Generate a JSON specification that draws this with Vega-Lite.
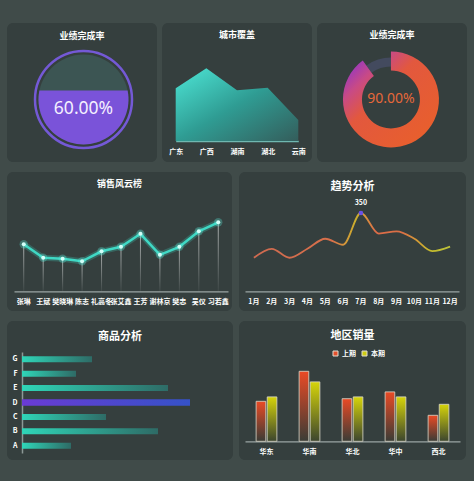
{
  "$schema": "https://vega.github.io/schema/vega-lite/v6.json",
  "background": "#404b49",
  "padding": {"left": 7, "top": 23, "right": 7, "bottom": 21},
  "config": {
    "font": "Noto Sans CJK SC",
    "view": {"stroke": null},
    "axis": {"grid": false, "ticks": false, "title": null, "labelColor": "#ffffff", "labelFontSize": 7, "labelFontWeight": "bold", "labelFont": "Noto Sans CJK SC", "labelOverlap": false, "domainColor": "#8c9896", "domainWidth": 1.2, "labelAngle": 0},
    "title": {"color": "#ffffff", "font": "Noto Sans CJK SC", "anchor": "middle", "frame": "group", "fontWeight": "bold"}
  },
  "datasets": {
    "gauge": [{"name": "业绩完成率", "value": 0.6, "label": "60.00%"}],
    "city": [
      {"city": "广东", "value": 265}, {"city": "广西", "value": 365}, {"city": "湖南", "value": 255},
      {"city": "湖北", "value": 267}, {"city": "云南", "value": 105}
    ],
    "donut": [
      {"part": "完成", "start": 0, "end": 90, "label": "90.00%"},
      {"part": "未完成", "start": 90, "end": 100, "label": "10.00%"}
    ],
    "sales": [
      {"name": "张琳", "value": 470}, {"name": "王斌", "value": 335}, {"name": "樊晓琳", "value": 325},
      {"name": "陈志", "value": 300}, {"name": "礼高冬", "value": 400}, {"name": "张艾鑫", "value": 445},
      {"name": "王芳", "value": 575}, {"name": "谢林京", "value": 365}, {"name": "樊忠", "value": 445},
      {"name": "吴仪", "value": 600}, {"name": "习若鑫", "value": 690}
    ],
    "trend": [
      {"month": "1月", "value": 150}, {"month": "2月", "value": 190}, {"month": "3月", "value": 150},
      {"month": "4月", "value": 190}, {"month": "5月", "value": 235}, {"month": "6月", "value": 208},
      {"month": "7月", "value": 350}, {"month": "8月", "value": 258}, {"month": "9月", "value": 268},
      {"month": "10月", "value": 235}, {"month": "11月", "value": 180}, {"month": "12月", "value": 200}
    ],
    "goods": [
      {"cat": "G", "value": 70}, {"cat": "F", "value": 54}, {"cat": "E", "value": 146},
      {"cat": "D", "value": 168}, {"cat": "C", "value": 84}, {"cat": "B", "value": 136}, {"cat": "A", "value": 49}
    ],
    "region": [
      {"region": "华东", "period": "上期", "value": 200}, {"region": "华东", "period": "本期", "value": 222},
      {"region": "华南", "period": "上期", "value": 350}, {"region": "华南", "period": "本期", "value": 297},
      {"region": "华北", "period": "上期", "value": 213}, {"region": "华北", "period": "本期", "value": 222},
      {"region": "华中", "period": "上期", "value": 247}, {"region": "华中", "period": "本期", "value": 222},
      {"region": "西北", "period": "上期", "value": 130}, {"region": "西北", "period": "本期", "value": 185}
    ]
  },
  "spacing": 10,
  "vconcat": [
    {
      "spacing": 5,
      "hconcat": [
        {
          "width": 150, "height": 139,
          "view": {"fill": "#353f3e", "cornerRadius": 6},
          "title": {"text": "业绩完成率", "fontSize": 9, "offset": -17.5},
          "data": {"name": "gauge"},
          "encoding": {
            "x": {"datum": 0.51, "type": "quantitative", "scale": {"domain": [0, 1], "nice": false, "zero": false}, "axis": null},
            "y": {"datum": 0.45, "type": "quantitative", "scale": {"domain": [0, 1], "nice": false, "zero": false}, "axis": null}
          },
          "layer": [
            {"mark": {"type": "point", "shape": "circle", "size": 9409, "filled": false, "stroke": "#7459d6", "strokeWidth": 2.5, "opacity": 1}},
            {"mark": {"type": "point", "shape": "circle", "size": 8100, "filled": true, "fill": "#3c5553", "opacity": 1}},
            {"mark": {"type": "point", "shape": "M -0.9798 -0.2 A 1 1 0 1 0 0.9798 -0.2 Z", "size": 8100, "filled": true, "fill": "#7a53d9", "opacity": 1}},
            {"mark": {"type": "text", "fontSize": 17.5, "color": "#f4f0ff", "font": "Noto Sans", "dy": 9.5}, "encoding": {"text": {"field": "label"}}}
          ]
        },
        {
          "width": 150, "height": 139,
          "view": {"fill": "#353f3e", "cornerRadius": 6},
          "title": {"text": "城市覆盖", "fontSize": 9, "offset": -16.5},
          "data": {"name": "city"},
          "mark": {"type": "area", "fill": {"gradient": "linear", "x1": 0, "y1": 0, "x2": 1, "y2": 1, "stops": [{"offset": 0, "color": "#4de6d6"}, {"offset": 0.5, "color": "#2f9c93"}, {"offset": 1, "color": "#345d5b"}]}},
          "encoding": {
            "x": {"field": "city", "type": "ordinal", "sort": null, "scale": {"type": "point", "range": [13.7, 136.3], "padding": 0}, "axis": {"offset": -21, "labelPadding": 6, "domainColor": "#6fb7b0", "domainWidth": 1.5}},
            "y": {"field": "value", "type": "quantitative", "scale": {"domain": [0, 365], "range": [118, 45.3]}, "axis": null}
          }
        },
        {
          "width": 150, "height": 139,
          "view": {"fill": "#353f3e", "cornerRadius": 6},
          "title": {"text": "业绩完成率", "fontSize": 9, "offset": -16.5},
          "data": {"name": "donut"},
          "encoding": {
            "x": {"datum": 0.493, "type": "quantitative", "scale": {"domain": [0, 1], "nice": false, "zero": false}, "axis": null},
            "y": {"datum": 0.45, "type": "quantitative", "scale": {"domain": [0, 1], "nice": false, "zero": false}, "axis": null}
          },
          "layer": [
            {
              "transform": [{"filter": "datum.part === '未完成'"}],
              "mark": {"type": "arc", "innerRadius": 33, "outerRadius": 42, "fill": "#434a5e"},
              "encoding": {"theta": {"field": "start", "type": "quantitative", "scale": {"domain": [0, 100], "range": [0, 6.2832]}}, "theta2": {"field": "end"}}
            },
            {
              "transform": [{"filter": "datum.part === '完成'"}],
              "mark": {"type": "arc", "innerRadius": 29, "outerRadius": 48, "fill": {"gradient": "linear", "x1": 0, "y1": 0, "x2": 1, "y2": 1, "stops": [{"offset": 0.1, "color": "#9236c6"}, {"offset": 0.25, "color": "#c84a86"}, {"offset": 0.42, "color": "#e2583e"}, {"offset": 1, "color": "#ea6128"}]}},
              "encoding": {"theta": {"field": "start", "type": "quantitative"}, "theta2": {"field": "end"}}
            },
            {
              "transform": [{"filter": "datum.part === '完成'"}],
              "mark": {"type": "text", "fontSize": 14, "color": "#e5683a", "font": "Noto Sans"},
              "encoding": {"text": {"field": "label"}}
            }
          ]
        }
      ]
    },
    {
      "spacing": 7,
      "hconcat": [
        {
          "width": 225, "height": 139,
          "view": {"fill": "#353f3e", "cornerRadius": 6},
          "title": {"text": "销售风云榜", "fontSize": 9, "offset": -17},
          "data": {"name": "sales"},
          "encoding": {
            "x": {"field": "name", "type": "ordinal", "sort": null, "scale": {"type": "band", "range": [7, 221], "paddingInner": 0, "paddingOuter": 0}, "axis": {"offset": -19.7, "labelPadding": 6, "domainColor": "#9aa5a3"}},
            "y": {"field": "value", "type": "quantitative", "scale": {"domain": [0, 700], "range": [119.3, 49.3]}, "axis": null}
          },
          "layer": [
            {"mark": {"type": "bar", "size": 1, "fill": {"gradient": "linear", "x1": 0, "y1": 0, "x2": 0, "y2": 1, "stops": [{"offset": 0, "color": "rgba(255,255,255,0.6)"}, {"offset": 1, "color": "rgba(255,255,255,0.05)"}]}}},
            {"mark": {"type": "line", "stroke": "#3fd8c4", "strokeWidth": 6, "opacity": 0.25}},
            {"mark": {"type": "line", "stroke": "#3fd8c4", "strokeWidth": 2.5}},
            {"mark": {"type": "point", "filled": true, "size": 70, "color": "#5ef0de", "opacity": 0.3}},
            {"mark": {"type": "point", "filled": true, "size": 16, "color": "#d4fff9", "opacity": 1}}
          ]
        },
        {
          "width": 227, "height": 139,
          "view": {"fill": "#353f3e", "cornerRadius": 6},
          "title": {"text": "趋势分析", "fontSize": 11, "offset": -20},
          "data": {"name": "trend"},
          "encoding": {
            "x": {"field": "month", "type": "ordinal", "sort": null, "scale": {"type": "band", "range": [6, 220], "paddingInner": 0, "paddingOuter": 0}, "axis": {"offset": -19.7, "labelPadding": 6, "domainColor": "#9aa5a3"}},
            "y": {"field": "value", "type": "quantitative", "scale": {"domain": [0, 350], "range": [119.3, 41]}, "axis": null}
          },
          "layer": [
            {"mark": {"type": "line", "interpolate": "monotone", "strokeWidth": 1.8, "stroke": {"gradient": "linear", "x1": 0, "y1": 0, "x2": 1, "y2": 0, "stops": [{"offset": 0, "color": "#cf6a50"}, {"offset": 0.4, "color": "#d8704a"}, {"offset": 0.47, "color": "#d49a38"}, {"offset": 0.52, "color": "#cbb02c"}, {"offset": 0.56, "color": "#d99a3a"}, {"offset": 0.62, "color": "#dc6c48"}, {"offset": 0.76, "color": "#da7045"}, {"offset": 0.83, "color": "#d49a36"}, {"offset": 0.9, "color": "#c5bb2c"}, {"offset": 1, "color": "#bcc23a"}]}}},
            {
              "transform": [{"joinaggregate": [{"op": "max", "field": "value", "as": "maxv"}]}, {"filter": "datum.value === datum.maxv"}],
              "layer": [
                {"mark": {"type": "point", "filled": true, "size": 22, "color": "#6a52e6", "opacity": 1}},
                {"mark": {"type": "text", "dy": -10, "fontSize": 7, "fontWeight": "bold", "color": "#ffffff"}, "encoding": {"text": {"field": "value"}}}
              ]
            }
          ]
        }
      ]
    },
    {
      "spacing": 6,
      "hconcat": [
        {
          "width": 226, "height": 139,
          "view": {"fill": "#353f3e", "cornerRadius": 6},
          "title": {"text": "商品分析", "fontSize": 11, "offset": -20.5},
          "data": {"name": "goods"},
          "encoding": {
            "y": {"field": "cat", "type": "ordinal", "sort": ["G", "F", "E", "D", "C", "B", "A"], "scale": {"type": "band", "range": [31, 132], "paddingInner": 0, "paddingOuter": 0}, "axis": {"offset": -15, "labelPadding": 5, "domainColor": "#8c9896", "domainWidth": 1.5}},
            "x": {"field": "value", "type": "quantitative", "scale": {"domain": [0, 200], "range": [15, 215]}, "axis": null}
          },
          "layer": [
            {"transform": [{"filter": "datum.cat !== 'D'"}], "mark": {"type": "bar", "size": 6, "fill": {"gradient": "linear", "x1": 0, "y1": 0, "x2": 1, "y2": 0, "stops": [{"offset": 0, "color": "#2fd6b8"}, {"offset": 1, "color": "#2e6b66"}]}}},
            {"transform": [{"filter": "datum.cat === 'D'"}], "mark": {"type": "bar", "size": 6.5, "fill": {"gradient": "linear", "x1": 0, "y1": 0, "x2": 1, "y2": 0, "stops": [{"offset": 0, "color": "#6a3bd4"}, {"offset": 1, "color": "#3552c8"}]}}}
          ]
        },
        {
          "width": 227, "height": 139,
          "view": {"fill": "#353f3e", "cornerRadius": 6},
          "title": {"text": "地区销量", "fontSize": 11, "offset": -19.5},
          "data": {"name": "region"},
          "encoding": {
            "x": {"field": "region", "type": "ordinal", "sort": null, "scale": {"type": "band", "range": [6, 221], "paddingInner": 0, "paddingOuter": 0}, "axis": {"offset": -18.7, "labelPadding": 6, "domainColor": "#9aa5a3"}},
            "xOffset": {"field": "period", "type": "nominal", "scale": {"domain": ["上期", "本期"], "paddingInner": 0.13, "paddingOuter": 1.1}},
            "y": {"field": "value", "type": "quantitative", "scale": {"domain": [0, 350], "range": [120.3, 50.3]}, "axis": null}
          },
          "layer": [
            {"transform": [{"filter": "datum.period === '上期'"}], "mark": {"type": "bar", "stroke": "#dcd9cc", "strokeWidth": 0.8, "fill": {"gradient": "linear", "x1": 0, "y1": 0, "x2": 0, "y2": 1, "stops": [{"offset": 0, "color": "#ea4a25"}, {"offset": 1, "color": "#3a3c36"}]}}},
            {"transform": [{"filter": "datum.period === '本期'"}], "mark": {"type": "bar", "stroke": "#dcd9cc", "strokeWidth": 0.8, "fill": {"gradient": "linear", "x1": 0, "y1": 0, "x2": 0, "y2": 1, "stops": [{"offset": 0, "color": "#d6d40a"}, {"offset": 1, "color": "#3c452e"}]}}},
            {
              "mark": {"type": "point", "shape": "square", "filled": true, "size": 0, "opacity": 1},
              "encoding": {"color": {"field": "period", "type": "nominal", "scale": {"domain": ["上期", "本期"], "range": ["#e4502c", "#cfcc12"]}, "legend": {"orient": "none", "legendX": 325, "legendY": 327, "direction": "horizontal", "title": null, "padding": 0, "symbolType": "square", "symbolSize": 25, "symbolStrokeColor": "#e0ddd0", "symbolStrokeWidth": 1, "labelColor": "#ffffff", "labelFontSize": 7, "labelFontWeight": "bold", "labelOffset": 3, "columnPadding": 4}}}
            }
          ]
        }
      ]
    }
  ]
}
